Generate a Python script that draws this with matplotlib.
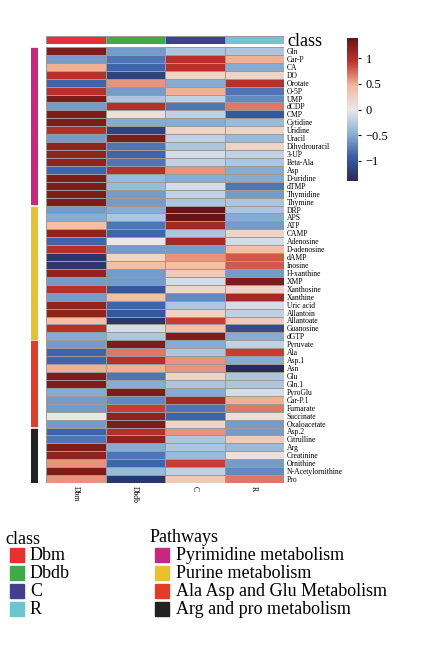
import matplotlib.pyplot as plt
import numpy as np
from matplotlib.colors import LinearSegmentedColormap, ListedColormap
from matplotlib.patches import Rectangle

plt.rcParams['font.family'] = ['Liberation Serif', 'DejaVu Serif']

metabolites = ['Gln', 'Car-P', 'CA', 'DO', 'Orotate', 'O-5P', 'UMP', 'dCDP', 'CMP', 'Cytidine',
               'Uridine', 'Uracil', 'Dihydrouracil', '3-UP', 'Beta-Ala', 'Asp', 'D-uridine', 'dTMP',
               'Thymidine', 'Thymine', 'DRP', 'APS', 'ATP', 'CAMP', 'Adenosine', 'D-adenosine', 'dAMP',
               'Inosine', 'H-xanthine', 'XMP', 'Xanthosine', 'Xanthine', 'Uric acid', 'Allantoin',
               'Allantoate', 'Guanosine', 'dGTP', 'Pyruvate', 'Ala', 'Asp.1', 'Asn', 'Glu', 'Gln.1',
               'PyroGlu', 'Car-P.1', 'Fumarate', 'Succinate', 'Oxaloacetate', 'Asp.2', 'Citrulline',
               'Arg', 'Creatinine', 'Ornithine', 'N-Acetylornithine', 'Pro']
groups = ['Dbm', 'Dbdb', 'C', 'R']
dbm = [1.3, -0.6, 0.5, 1.0, -0.9, 1.0, 1.3, -0.6, 1.3, 1.3, 1.0, -0.6, 1.2, 1.2, 1.2, -0.9, 1.3, 1.3, 1.3, 1.3,
       -0.6, -0.5, 0.4, 1.2, -0.9, 1.0, -1.3, -1.3, 1.2, -0.6, 1.0, -0.6, 1.2, 1.2, 0.4, 1.0, -0.5,
       -0.6, -0.9, -0.9, 0.5, 1.3, 1.3, -0.5, -0.6, -0.6, 0.0, -0.6,
       -0.9, -0.8, 1.3, 1.2, 0.6, 1.3, 0.6]
dbdb = [-0.6, -0.8, -0.9, -1.2, 0.6, -0.6, -0.3, 1.0, 0.1, -0.5, -1.2, 1.3, -0.8, -0.9, -0.8, 1.0, -0.4, -0.4, -0.6, -0.6,
        -0.5, -0.3, -0.8, -0.9, 0.0, -0.6, 0.2, 0.4, -0.6, -0.6, -1.0, 0.4, -0.9, -1.0, -1.3, -0.1, -0.3,
        1.3, 0.7, 1.0, 0.5, -0.8, -0.5, 1.3, -0.7, 0.9, 1.2, 1.3,
        1.0, 1.2, -0.5, -0.8, -0.9, -0.4, -1.3]
c = [-0.3, 1.0, 1.0, 0.2, -0.5, 0.5, -0.2, -0.8, -0.2, -0.5, 0.2, -0.2, -0.3, -0.1, -0.2, 0.6, -0.5, -0.1, -0.2, -0.3,
     1.4, 1.4, 1.1, -0.3, 1.1, -0.6, 0.6, 0.4, 0.3, -0.1, 0.2, -0.7, -0.3, 0.2, 0.9, 0.4, 1.3,
     -0.5, -0.3, 0.6, 0.6, 0.2, -0.3, -0.5, 1.1, -0.8, -0.9, 0.2,
     0.6, -0.3, -0.3, -0.4, 0.9, -0.2, 0.3]
r = [-0.3, 0.5, -0.5, 0.2, 1.0, -0.8, -0.7, 0.7, -1.0, -0.4, 0.2, -0.4, 0.2, -0.2, -0.3, -0.5, -0.5, -0.8, -0.6, -0.3,
     -0.3, -0.5, -0.6, 0.2, -0.1, 0.4, 0.8, 0.8, -0.6, 1.3, 0.2, 1.1, -0.1, -0.2, 0.3, -1.1, -0.5,
     -0.2, 0.9, -0.5, -1.4, -0.3, -0.3, -0.1, 0.5, 0.7, 0.1, -0.6,
     -0.6, 0.3, -0.4, 0.1, -0.6, -0.7, 0.7]
pathways = ['Pyrimidine metabolism', 'Purine metabolism', 'Ala Asp and Glu Metabolism', 'Arg and pro metabolism']
pathway_sizes = [20, 17, 11, 7]

class_colors = ['#e8312e', '#3faa48', '#40408f', '#6ec6cc']
path_colors = ['#c8267f', '#e8c22b', '#e23c26', '#222222']

data = np.array([dbm, dbdb, c, r]).T
n = len(metabolites)
cmap = LinearSegmentedColormap.from_list('hm', ['#272c5c', '#3a5fa8', '#8db2d6', '#e9e9e9',
                                                '#f5b89c', '#c4352e', '#6a1515'])
vmin, vmax = -1.4, 1.4

W, H = 425, 660
fig = plt.figure(figsize=(W / 100, H / 100), dpi=100)

def ax_px(x0, y0, x1, y1):
    return fig.add_axes([x0 / W, 1 - y1 / H, (x1 - x0) / W, (y1 - y0) / H])

# heatmap
ax = ax_px(46, 47, 284, 483)
ax.pcolormesh(data, cmap=cmap, vmin=vmin, vmax=vmax, edgecolors='#9a9a9a', linewidth=0.6)
ax.set_ylim(n, 0)
ax.set_xlim(0, 4)
ax.set_yticks(np.arange(n) + 0.5)
ax.set_yticklabels(metabolites, fontsize=5.5)
ax.yaxis.tick_right()
ax.set_xticks(np.arange(4) + 0.5)
ax.set_xticklabels(groups, rotation=-90, fontsize=5.5)
ax.tick_params(length=0, pad=2)
for s in ax.spines.values():
    s.set_visible(False)

# class bar
axc = ax_px(46, 36, 284, 44)
axc.pcolormesh(np.arange(4).reshape(1, 4), cmap=ListedColormap(class_colors), edgecolors='#9a9a9a', linewidth=0.6)
axc.set_axis_off()
fig.text(287 / W, 1 - 41 / H, 'class', fontsize=13, va='center')

# pathway bar, segments with small gaps
axp = ax_px(31, 47, 38, 483)
start = 0
for size, col in zip(pathway_sizes, path_colors):
    axp.add_patch(Rectangle((0, start + 0.15), 1, size - 0.3, color=col))
    start += size
axp.set_xlim(0, 1)
axp.set_ylim(n, 0)
axp.set_axis_off()

# colorbar
axcb = ax_px(347, 38, 358, 181)
grad = np.linspace(vmax, vmin, 200).reshape(-1, 1)
axcb.imshow(grad, aspect='auto', cmap=cmap, vmin=vmin, vmax=vmax, extent=[0, 1, vmin, vmax])
axcb.set_xticks([])
axcb.yaxis.tick_right()
axcb.set_yticks([1, 0.5, 0, -0.5, -1])
axcb.set_yticklabels(['1', '0.5', '0', '\u22120.5', '\u22121'], fontsize=9)
axcb.tick_params(length=2)
for s in axcb.spines.values():
    s.set_visible(False)

# legends
fig.text(5 / W, 1 - 540 / H, 'class', fontsize=13, va='center')
for i, (g, col) in enumerate(zip(groups, class_colors)):
    y = 555 + i * 18
    fig.patches.append(Rectangle((10 / W, 1 - (y + 7) / H), 14 / W, 14 / H, color=col, transform=fig.transFigure))
    fig.text(30 / W, 1 - y / H, g, fontsize=13, va='center')
fig.text(150 / W, 1 - 538 / H, 'Pathways', fontsize=13, va='center')
for i, (p, col) in enumerate(zip(pathways, path_colors)):
    y = 555 + i * 18
    fig.patches.append(Rectangle((155 / W, 1 - (y + 7) / H), 14 / W, 14 / H, color=col, transform=fig.transFigure))
    fig.text(176 / W, 1 - y / H, p, fontsize=13, va='center')

fig.savefig('out.png', dpi=100)
